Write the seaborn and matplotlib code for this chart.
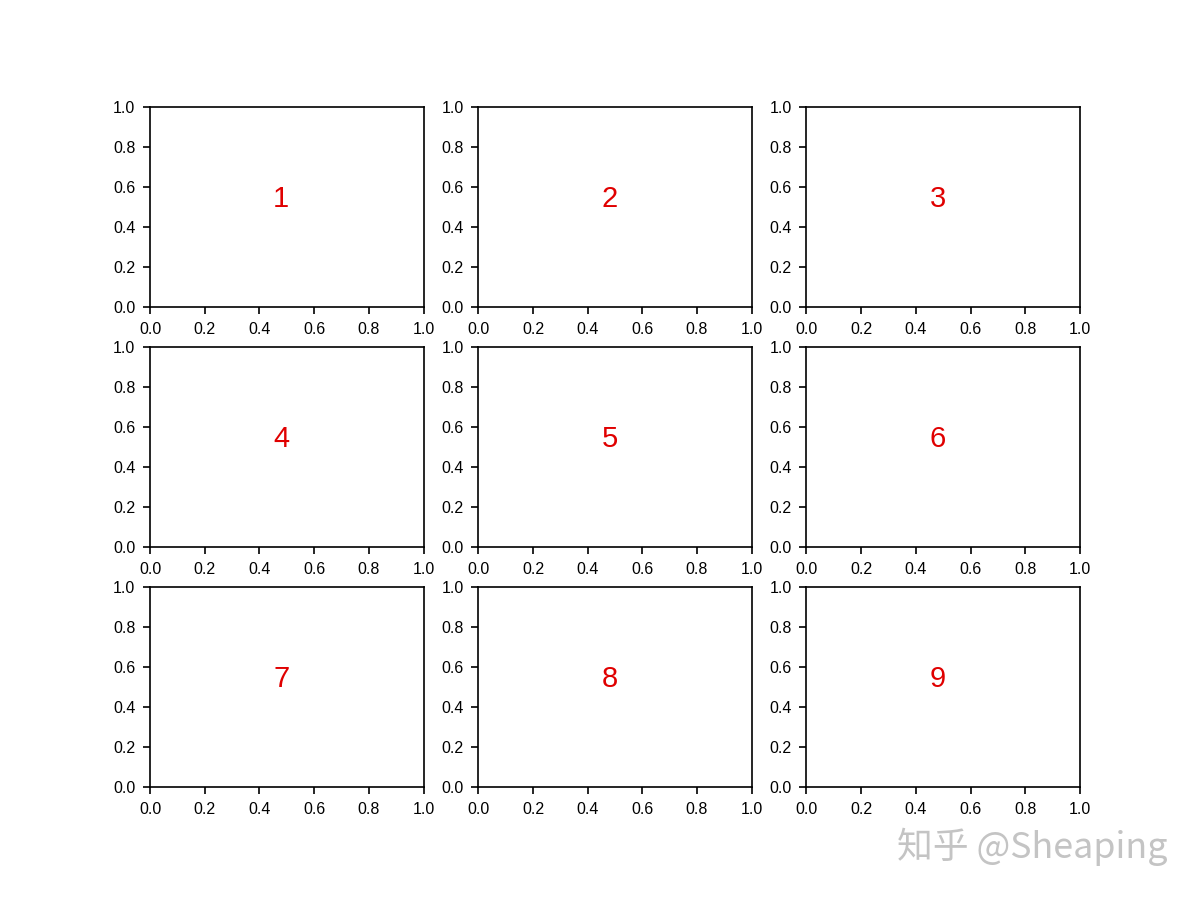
import matplotlib
matplotlib.use("Agg")
import matplotlib.pyplot as plt
import seaborn as sns

# Panel labels, one per subplot
panel_labels = ["1", "2", "3", "4", "5", "6", "7", "8", "9"]
tick_values = [0.0, 0.2, 0.4, 0.6, 0.8, 1.0]
watermark = "知乎 @Sheaping"

sns.set_style("ticks", rc={
    "axes.edgecolor": "black",
    "xtick.color": "black",
    "ytick.color": "black",
    "axes.linewidth": 0.8,
})
plt.rcParams["font.family"] = ["Liberation Sans", "Noto Sans CJK SC", "DejaVu Sans"]

fig, axes = plt.subplots(3, 3, figsize=(8, 6), dpi=150)
fig.subplots_adjust(left=0.125, right=0.9, top=0.881, bottom=0.1256,
                    wspace=0.2, hspace=0.2)

for ax, label in zip(axes.flat, panel_labels):
    ax.set_xlim(0, 1)
    ax.set_ylim(0, 1)
    ax.set_xticks(tick_values)
    ax.set_yticks(tick_values)
    ax.tick_params(labelsize=7.7, length=3.5, width=0.8, pad=3.5)
    ax.text(0.45, 0.5, label, fontsize=14, color="#e00000",
            transform=ax.transAxes)

# Watermark in lower right
fig.text(0.973, 0.047, watermark, ha="right", va="baseline", fontsize=17.2,
         color="#c4c4c4", family=["Noto Sans CJK SC", "DejaVu Sans"])

fig.savefig("out.png", dpi=150)
